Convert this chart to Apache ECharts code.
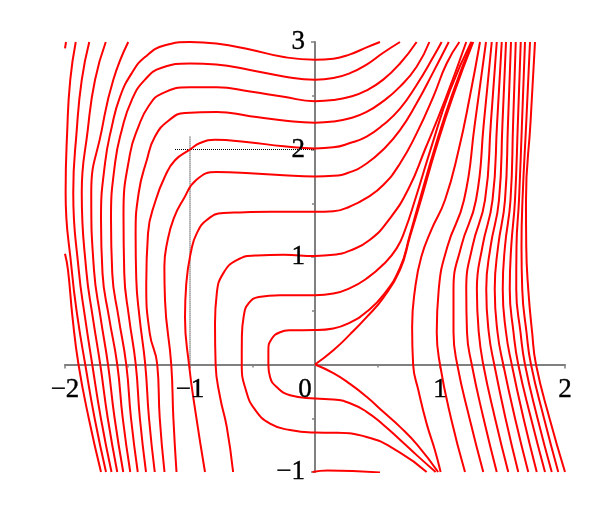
<!DOCTYPE html>
<html>
<head>
<meta charset="utf-8">
<script src="https://cdn.jsdelivr.net/npm/echarts@6/dist/echarts.min.js"></script>
<style>
html,body{margin:0;padding:0;background:#fff;}
#chart{width:600px;height:507px;}
</style>
</head>
<body>
<div id="chart"></div>
<script>
// Tick labels
const xTicks = [-2, -1, 0, 1, 2];
const yTicks = [-1, 1, 2, 3];

// Solution curves, [x, y] pairs
const curveEdge = [[-2.0, 2.94], [-1.992, 3.0]];
const curveA0 = [[-2.0, 1.03], [-1.976, 0.878], [-1.94, 0.44], [-1.892, 0], [-1.81, -0.5], [-1.712, -1.0]];
const curveA1 = [[-1.914, 3.0], [-1.958, 2.647], [-1.982, 2.18], [-1.995, 1.6], [-1.946, 0.878], [-1.9, 0.44], [-1.838, 0], [-1.763, -0.5], [-1.672, -1.0]];
const curveA2 = [[-1.806, 3.0], [-1.866, 2.647], [-1.906, 2.18], [-1.934, 1.6], [-1.89, 0.878], [-1.84, 0.44], [-1.782, 0], [-1.713, -0.5], [-1.628, -1.0]];
const curveA3 = [[-1.674, 3.0], [-1.76, 2.647], [-1.818, 2.18], [-1.866, 1.6], [-1.83, 0.878], [-1.778, 0.44], [-1.718, 0], [-1.658, -0.5], [-1.582, -1.0]];
const curveA4 = [[-1.494, 3.0], [-1.614, 2.647], [-1.706, 2.18], [-1.79, 1.6], [-1.768, 0.878], [-1.716, 0.44], [-1.656, 0], [-1.603, -0.5], [-1.534, -1.0]];
const curveA5 = [[0.52, 3.0], [0.413, 2.95], [0.28, 2.885], [0.147, 2.845], [0, 2.835], [-0.25, 2.86], [-0.52, 2.93], [-0.79, 2.985], [-1.0, 3.0], [-1.2, 2.97], [-1.36, 2.86], [-1.466, 2.71], [-1.56, 2.49], [-1.626, 2.21], [-1.68, 1.87], [-1.712, 1.35], [-1.7, 0.85], [-1.648, 0.44], [-1.582, 0], [-1.538, -0.5], [-1.478, -1.0]];
const curveA6 = [[0.68, 3.0], [0.546, 2.9], [0.413, 2.79], [0.28, 2.71], [0.147, 2.665], [0, 2.65], [-0.25, 2.68], [-0.52, 2.74], [-0.79, 2.79], [-1.0, 2.8], [-1.226, 2.76], [-1.36, 2.65], [-1.466, 2.46], [-1.546, 2.18], [-1.6, 1.87], [-1.632, 1.35], [-1.622, 0.85], [-1.572, 0.44], [-1.51, 0], [-1.472, -0.5], [-1.418, -1.0]];
const curveA7 = [[0.813, 3.0], [0.68, 2.8], [0.546, 2.65], [0.413, 2.55], [0.28, 2.49], [0.147, 2.46], [0, 2.45], [-0.25, 2.49], [-0.52, 2.54], [-0.786, 2.58], [-1.0, 2.58], [-1.226, 2.52], [-1.333, 2.4], [-1.413, 2.21], [-1.48, 1.96], [-1.532, 1.4], [-1.526, 0.85], [-1.488, 0.44], [-1.434, 0], [-1.401, -0.5], [-1.352, -1.0]];
const curveA8 = [[0.915, 3.0], [0.813, 2.77], [0.68, 2.585], [0.546, 2.45], [0.413, 2.35], [0.28, 2.29], [0.147, 2.26], [0, 2.25], [-0.25, 2.27], [-0.52, 2.31], [-0.786, 2.35], [-1.04, 2.34], [-1.17, 2.27], [-1.28, 2.12], [-1.346, 1.9], [-1.41, 1.6], [-1.435, 1.2], [-1.43, 0.8], [-1.404, 0.44], [-1.358, 0], [-1.328, -0.5], [-1.282, -1.0]];
const curveA9 = [[1.013, 3.0], [0.946, 2.86], [0.813, 2.6], [0.68, 2.38], [0.546, 2.23], [0.413, 2.12], [0.28, 2.06], [0.147, 2.02], [0, 2.01], [-0.25, 2.03], [-0.55, 2.07], [-0.8, 2.09], [-0.92, 2.06], [-1.0, 2.0], [-1.12, 1.9], [-1.2, 1.75], [-1.274, 1.53], [-1.336, 1.22], [-1.35, 0.75], [-1.322, 0.29], [-1.262, 0], [-1.242, -0.5], [-1.204, -1.0]];
const curveA10 = [[1.07, 3.0], [0.946, 2.72], [0.813, 2.43], [0.68, 2.18], [0.546, 2.0], [0.413, 1.87], [0.28, 1.79], [0.147, 1.755], [0, 1.75], [-0.25, 1.76], [-0.52, 1.78], [-0.786, 1.79], [-0.946, 1.72], [-1.056, 1.53], [-1.13, 1.36], [-1.18, 1.15], [-1.205, 0.91], [-1.2, 0.6], [-1.15, 0], [-1.133, -0.5], [-1.108, -1.0]];
const curveA11 = [[1.155, 3.0], [1.053, 2.8], [0.946, 2.49], [0.813, 2.15], [0.68, 1.87], [0.546, 1.67], [0.413, 1.55], [0.28, 1.47], [0.147, 1.425], [0, 1.42], [-0.35, 1.42], [-0.6, 1.415], [-0.733, 1.41], [-0.866, 1.344], [-0.946, 1.22], [-0.99, 1.06], [-1.03, 0.75], [-1.04, 0.44], [-1.008, 0], [-0.955, -0.45], [-0.88, -1.0]];
const curveB1 = [[-0.655, -1.0], [-0.706, -0.58], [-0.76, -0.3], [-0.795, 0], [-0.8, 0.38], [-0.786, 0.66], [-0.733, 0.85], [-0.626, 0.97], [-0.466, 1.015], [-0.25, 1.02], [0, 1.01], [0.147, 1.02], [0.28, 1.06], [0.44, 1.16], [0.6, 1.36], [0.75, 1.64], [0.88, 2.0], [1.04, 2.46], [1.21, 3.0]];
const curveC2 = [[0.893, -1.0], [0.68, -0.82], [0.413, -0.674], [0.147, -0.635], [0, -0.633], [-0.2, -0.61], [-0.36, -0.55], [-0.48, -0.42], [-0.55, -0.25], [-0.586, 0], [-0.585, 0.25], [-0.57, 0.45], [-0.53, 0.57], [-0.45, 0.628], [-0.28, 0.645], [0, 0.645], [0.147, 0.66], [0.28, 0.71], [0.413, 0.8], [0.546, 0.93], [0.653, 1.08], [0.72, 1.25], [0.8, 1.53], [0.93, 2.02], [1.08, 2.55], [1.25, 3.0]];
const curveC3 = [[0.965, -1.0], [0.82, -0.85], [0.68, -0.7], [0.546, -0.56], [0.413, -0.44], [0.28, -0.36], [0.147, -0.325], [0, -0.317], [-0.2, -0.286], [-0.306, -0.21], [-0.36, -0.115], [-0.373, 0], [-0.373, 0.133], [-0.346, 0.24], [-0.28, 0.3], [-0.2, 0.318], [0, 0.32], [0.147, 0.335], [0.28, 0.39], [0.413, 0.49], [0.546, 0.645], [0.68, 0.9], [0.76, 1.21], [0.84, 1.54], [0.96, 2.02], [1.1, 2.52], [1.258, 3.0]];
const curveSUp = [[0, 0], [0.147, 0.133], [0.28, 0.28], [0.413, 0.44], [0.546, 0.62], [0.68, 0.88], [0.76, 1.19], [0.845, 1.52], [0.965, 2.0], [1.105, 2.5], [1.266, 3.0]];
const curveSDown = [[0, 0], [0.147, -0.08], [0.28, -0.18], [0.413, -0.3], [0.546, -0.44], [0.68, -0.58], [0.82, -0.75], [0.985, -1.0]];
const curveD = [[-0.02, -1.0], [0.1, -0.986], [0.3, -0.99], [0.52, -1.005]];
const curveC1 = [[1.32, 3.0], [1.24, 2.5], [1.15, 2.0], [1.04, 1.53], [0.93, 1.25], [0.85, 1.0], [0.8, 0.7], [0.777, 0.35], [0.785, 0], [0.827, -0.24], [0.893, -0.55], [0.96, -0.8], [1.005, -1.0]];
const curveR1 = [[1.368, 3], [1.28, 2.25], [1.192, 1.53], [1.06, 1.1], [0.99, 0.7], [0.974, 0.3], [1.0, 0], [1.088, -0.5], [1.2, -1]];
const curveR2 = [[1.414, 3], [1.351, 2.25], [1.288, 1.53], [1.17, 1.1], [1.108, 0.7], [1.108, 0.3], [1.138, 0], [1.236, -0.5], [1.346, -1]];
const curveR3 = [[1.454, 3], [1.407, 2.25], [1.36, 1.53], [1.26, 1.1], [1.21, 0.7], [1.216, 0.3], [1.254, 0], [1.348, -0.5], [1.454, -1]];
const curveR4 = [[1.494, 3], [1.457, 2.25], [1.42, 1.53], [1.34, 1.1], [1.295, 0.7], [1.31, 0.3], [1.346, 0], [1.44, -0.5], [1.546, -1]];
const curveR5 = [[1.528, 3], [1.5, 2.25], [1.472, 1.53], [1.405, 1.1], [1.37, 0.7], [1.39, 0.3], [1.434, 0], [1.524, -0.5], [1.626, -1]];
const curveR6 = [[1.568, 3], [1.544, 2.25], [1.52, 1.53], [1.465, 1.1], [1.438, 0.7], [1.46, 0.3], [1.506, 0], [1.6, -0.5], [1.706, -1]];
const curveR7 = [[1.606, 3], [1.585, 2.25], [1.564, 1.53], [1.52, 1.1], [1.502, 0.7], [1.528, 0.3], [1.574, 0], [1.668, -0.5], [1.774, -1]];
const curveR8 = [[1.646, 3], [1.623, 2.25], [1.6, 1.53], [1.57, 1.1], [1.558, 0.7], [1.588, 0.3], [1.626, 0], [1.728, -0.5], [1.84, -1]];
const curveR9 = [[1.68, 3], [1.656, 2.25], [1.632, 1.53], [1.612, 1.1], [1.61, 0.7], [1.644, 0.3], [1.68, 0], [1.78, -0.5], [1.894, -1]];
const curveR10 = [[1.72, 3], [1.69, 2.25], [1.66, 1.53], [1.652, 1.1], [1.658, 0.7], [1.692, 0.3], [1.728, 0], [1.832, -0.5], [1.946, -1]];
const curveR11 = [[1.76, 3], [1.724, 2.25], [1.688, 1.53], [1.69, 1.1], [1.706, 0.7], [1.737, 0.3], [1.768, 0], [1.876, -0.5], [2.0, -1]];

// Dotted guide lines to the point (-1, 2)
const guideH = [[-1.12, 2.0], [0, 2.0]];
const guideV = [[-1.0, 2.12], [-1.0, 0]];

const curves = [curveEdge, curveA0, curveA1, curveA2, curveA3, curveA4, curveA5, curveA6, curveA7,
  curveA8, curveA9, curveA10, curveA11, curveB1, curveC2, curveC3, curveSUp, curveSDown, curveD,
  curveC1, curveR1, curveR2, curveR3, curveR4, curveR5, curveR6, curveR7, curveR8, curveR9, curveR10, curveR11];

const fmt = v => (v < 0 ? '\u2212' + Math.abs(v) : String(v));
const axisColor = '#808080';
const labelFont = 'Liberation Serif';
const labelSize = 27;

const series = curves.map(c => ({
  type: 'line', data: c, smooth: 0.5, symbol: 'none', silent: true,
  lineStyle: { color: '#ff0000', width: 2 }, z: 3
}));
[guideH, guideV].forEach(g => series.push({
  type: 'line', data: g, symbol: 'none', silent: true,
  lineStyle: { color: '#000', width: 1, type: 'dotted' }, z: 2
}));
const labelStyle = {
  show: true, color: '#000', opacity: 1, fontFamily: labelFont, fontSize: labelSize,
  textBorderColor: '#000', textBorderWidth: 0.4
};
// Tick labels placed beside the axes that cross at the origin
series.push({
  type: 'scatter', symbolSize: 0, silent: true, z: 5,
  data: xTicks.map(v => ({ value: [v, 0], label: { offset: v === 0 ? [-10, 0] : [0, 0] } })),
  label: Object.assign({}, labelStyle, { position: 'bottom', distance: 12, formatter: p => fmt(p.value[0]) })
});
series.push({
  type: 'scatter', symbolSize: 0, silent: true, z: 5,
  data: yTicks.map(v => ({ value: [0, v] })),
  label: Object.assign({}, labelStyle, { position: 'left', distance: 10, formatter: p => fmt(p.value[1]) })
});

const chart = echarts.init(document.getElementById('chart'));
chart.setOption({
  animation: false,
  backgroundColor: '#fff',
  grid: { left: 65, right: 35, top: 42, bottom: 35 },
  xAxis: {
    type: 'value', min: xTicks[0], max: xTicks[xTicks.length - 1], interval: 1,
    axisLine: { onZero: true, lineStyle: { color: axisColor, width: 2 } },
    axisTick: { show: true, length: 4, lineStyle: { color: axisColor, width: 1.5 } },
    minorTick: { show: true, splitNumber: 2, length: 3, lineStyle: { color: axisColor, width: 1.5 } },
    splitLine: { show: false },
    axisLabel: { show: false }
  },
  yAxis: {
    type: 'value', min: -1, max: 3, interval: 1,
    axisLine: { onZero: true, lineStyle: { color: axisColor, width: 2 } },
    axisTick: { show: true, length: 4, lineStyle: { color: axisColor, width: 1.5 } },
    minorTick: { show: true, splitNumber: 2, length: 3, lineStyle: { color: axisColor, width: 1.5 } },
    splitLine: { show: false },
    axisLabel: { show: false }
  },
  series: series
});
</script>
</body>
</html>
